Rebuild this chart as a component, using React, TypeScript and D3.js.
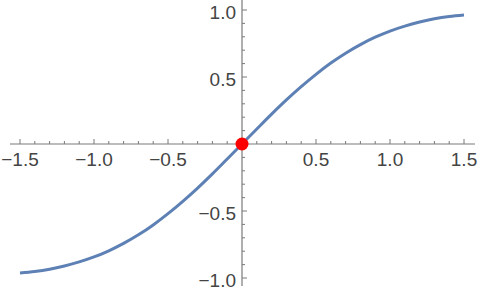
import React from "react";
import * as d3 from "d3";

const xValues = [-1.5, -1.4, -1.3, -1.2, -1.1, -1.0, -0.9, -0.8, -0.7, -0.6, -0.5, -0.4, -0.3, -0.2, -0.1, 0, 0.1, 0.2, 0.3, 0.4, 0.5, 0.6, 0.7, 0.8, 0.9, 1.0, 1.1, 1.2, 1.3, 1.4, 1.5];
const yValues = [-0.962, -0.951, -0.934, -0.910, -0.880, -0.843, -0.797, -0.742, -0.678, -0.604, -0.520, -0.428, -0.329, -0.223, -0.112, 0, 0.112, 0.223, 0.329, 0.428, 0.520, 0.604, 0.678, 0.742, 0.797, 0.843, 0.880, 0.910, 0.934, 0.951, 0.962];
const xTickLabels = [-1.5, -1.0, -0.5, 0.5, 1.0, 1.5];
const yTickLabels = [-1.0, -0.5, 0.5, 1.0];
const markPoint = [0, 0];

const W = 480;
const H = 292;

function fmt(v: number) {
  const s = Math.abs(v).toFixed(1);
  return v < 0 ? "\u2212" + s : s;
}

export default function App() {
  const x = d3.scaleLinear().domain([-1.5, 1.5]).range([20, 464]);
  const y = d3.scaleLinear().domain([-1, 1]).range([278, 10]);
  const x0 = x(0);
  const y0 = y(0);

  const minorX = d3.range(-16, 17).map((i) => i / 10).filter((v) => x(v) >= 10 && x(v) <= 475 && Math.abs(v) > 1e-9);
  const minorY = d3.range(-11, 12).map((i) => i / 10).filter((v) => y(v) >= 0 && y(v) <= 286 && Math.abs(v) > 1e-9);
  const isMajor = (v: number) => Math.abs(v * 2 - Math.round(v * 2)) < 1e-6;

  const pts: [number, number][] = xValues.map((v, i) => [v, yValues[i]]);
  const line = d3
    .line<[number, number]>()
    .x((d) => x(d[0]))
    .y((d) => y(d[1]))
    .curve(d3.curveCatmullRom.alpha(0.5));

  const axisColor = "#7a7a7a";
  const textColor = "#444";

  return (
    <svg
      width={W}
      height={H}
      style={{ position: "absolute", left: 0, top: 0, background: "#fff", fontFamily: "'Liberation Sans', Arial, Helvetica, sans-serif" }}
    >
      <line x1={10} x2={475} y1={y0} y2={y0} stroke={axisColor} strokeWidth={1.2} />
      <line x1={x0} x2={x0} y1={0} y2={286} stroke={axisColor} strokeWidth={1.2} />
      {minorX.map((v) => (
        <line
          key={"xt" + v}
          x1={x(v)}
          x2={x(v)}
          y1={y0}
          y2={y0 - (isMajor(v) ? 5 : 3)}
          stroke={axisColor}
          strokeWidth={1}
        />
      ))}
      {minorY.map((v) => (
        <line
          key={"yt" + v}
          x1={x0}
          x2={x0 + (isMajor(v) ? 5 : 3)}
          y1={y(v)}
          y2={y(v)}
          stroke={axisColor}
          strokeWidth={1}
        />
      ))}
      {xTickLabels.map((v) => (
        <text key={"xl" + v} x={x(v)} y={y0 + 22} textAnchor="middle" fontSize={19} fill={textColor}>
          {fmt(v)}
        </text>
      ))}
      {yTickLabels.map((v) => (
        <text key={"yl" + v} x={x0 - 6} y={y(v) + 8.5} textAnchor="end" fontSize={19} fill={textColor}>
          {fmt(v)}
        </text>
      ))}
      <path d={line(pts) || ""} fill="none" stroke="#5E81B5" strokeWidth={3} />
      <circle cx={x(markPoint[0])} cy={y(markPoint[1])} r={6.5} fill="#ff0000" />
    </svg>
  );
}
